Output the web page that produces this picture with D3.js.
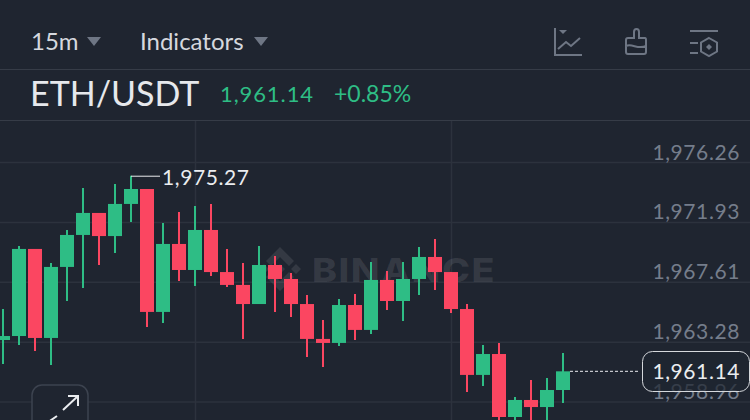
<!DOCTYPE html>
<html><head><meta charset="utf-8">
<script src="https://cdn.jsdelivr.net/npm/d3@7/dist/d3.min.js"></script>
<style>html,body{margin:0;padding:0;background:#1f2530;overflow:hidden}svg{display:block}text{font-family:Lato,"Open Sans",sans-serif}</style>
</head><body><svg id="c" width="750" height="420"></svg>
<script>
const opens =[1963.40,1963.69,1969.98,1963.55,1968.68,1970.99,1972.58,1970.91,1973.23,1974.31,1965.43,1970.34,1968.46,1971.35,1968.31,1967.38,1966.00,1968.82,1967.81,1966.00,1963.48,1963.19,1965.93,1964.13,1967.74,1966.22,1967.81,1969.40,1968.31,1965.64,1960.88,1962.39,1957.84,1959.07,1958.56,1959.79];
const closes=[1963.69,1969.98,1963.55,1968.68,1970.99,1972.58,1970.91,1973.23,1974.31,1965.43,1970.34,1968.46,1971.35,1968.31,1967.38,1966.00,1968.82,1967.81,1966.00,1963.48,1963.19,1965.93,1964.13,1967.74,1966.22,1967.81,1969.40,1968.31,1965.64,1960.88,1962.39,1957.84,1959.07,1958.56,1959.79,1961.14];
const highs =[1965.64,1970.19,1969.98,1968.96,1971.35,1974.38,1972.58,1974.67,1975.27,1974.31,1971.85,1972.65,1973.08,1973.23,1969.98,1968.96,1970.19,1969.47,1968.24,1966.65,1964.85,1966.36,1966.73,1969.04,1968.39,1969.04,1970.12,1970.70,1968.31,1966.00,1963.04,1963.19,1959.29,1960.51,1960.66,1962.46];
const lows  =[1961.67,1963.04,1962.61,1961.60,1966.22,1967.16,1968.82,1969.69,1971.93,1964.34,1964.63,1967.66,1967.30,1968.03,1967.23,1963.48,1966.00,1965.43,1965.06,1962.18,1961.45,1962.97,1963.40,1963.84,1965.57,1964.78,1966.65,1967.01,1965.35,1959.65,1960.08,1957.00,1957.40,1957.30,1957.50,1958.85];
const priceTicks=[1976.26,1971.93,1967.61,1963.28,1958.96];
const timeTicks=[12,28];
const lastPrice=1961.14, highPrice=1975.27, highIndex=8;
const labels={interval:"15m",indicators:"Indicators",pair:"ETH/USDT",price:"1,961.14",change:"+0.85%",high:"1,975.27",last:"1,961.14",brand:"BINANCE"};

const BG="#1f2530",UP="#2ebd85",DOWN="#fb4661",GRID="#2c323d",MUTED="#757d8b",ICON="#6e7684";
const fmt=d3.format(",.2f");
const svg=d3.select("#c");
svg.append("rect").attr("width",750).attr("height",420).attr("fill",BG);
const x=d3.scaleLinear().domain([0,35]).range([3,563]);
const y=d3.scaleLinear().domain([1976.26,1958.96]).range([162,401.5]);
const plot=svg.append("g");

// grid
const gy=plot.append("g").call(d3.axisRight(y).tickValues(priceTicks).tickSize(750).tickFormat(""));
gy.select(".domain").remove();
gy.selectAll("line").attr("stroke",GRID).attr("stroke-width",1.5);
const gx=plot.append("g").attr("transform","translate(0,420)").call(d3.axisTop(x).tickValues(timeTicks).tickSize(300).tickFormat(""));
gx.select(".domain").remove();
gx.selectAll("line").attr("stroke",GRID).attr("stroke-width",1.5);

// watermark
const wm=plot.append("g").attr("fill","#fff").attr("fill-opacity",0.095);
wm.append("text").attr("transform","translate(312,282) scale(1.14,1)").attr("font-size",33).attr("font-weight",800)
 .style("font-family","Inter,sans-serif").attr("textLength",160).attr("lengthAdjust","spacing").text(labels.brand);
const lg=wm.append("g").attr("transform","translate(280,269)");
lg.append("path").attr("d","M0,-22 L14,-8 L9,-3 L0,-12 L-9,-3 L-14,-8 Z M0,22 L14,8 L9,3 L0,12 L-9,3 L-14,8 Z M-16,-5 L-11,0 L-16,5 L-21,0 Z M16,-5 L21,0 L16,5 L11,0 Z M0,-5 L5,0 L0,5 L-5,0 Z");

// candles
const idx=d3.range(opens.length);
const col=i=>closes[i]>=opens[i]?UP:DOWN;
plot.append("g").selectAll("line").data(idx).join("line")
 .attr("x1",x).attr("x2",x).attr("y1",i=>y(highs[i])).attr("y2",i=>y(lows[i]))
 .attr("stroke",col).attr("stroke-width",2);
plot.append("g").selectAll("rect").data(idx).join("rect")
 .attr("x",i=>x(i)-7).attr("width",14)
 .attr("y",i=>y(Math.max(opens[i],closes[i])))
 .attr("height",i=>Math.max(1,Math.abs(y(opens[i])-y(closes[i]))))
 .attr("fill",col);

// y labels
const gl=plot.append("g").call(d3.axisRight(y).tickValues(priceTicks).tickSize(0).tickPadding(0).tickFormat(fmt));
gl.select(".domain").remove();
gl.selectAll("text").attr("x",740).attr("y",-1.5).attr("text-anchor","end")
 .attr("font-size",21).attr("fill",MUTED).style("font-family","Lato,sans-serif").attr("letter-spacing",0.6).attr("dy",-1.5);

// high marker
plot.append("line").attr("x1",x(highIndex)).attr("x2",160).attr("y1",y(highPrice)+.5).attr("y2",y(highPrice)+.5).attr("stroke","#eaecef").attr("stroke-width",1);
plot.append("text").attr("x",162).attr("y",y(highPrice)+9).attr("font-size",21).attr("fill","#eaecef").attr("letter-spacing",0.6).text(labels.high);

// last price
plot.append("line").attr("x1",570).attr("x2",640).attr("y1",y(lastPrice)).attr("y2",y(lastPrice)).attr("stroke","#eaecef").attr("stroke-width",1).attr("stroke-dasharray","3 2");
plot.append("rect").attr("x",642.5).attr("y",351.5).attr("width",107).attr("height",40).attr("rx",10).attr("fill",BG).attr("fill-opacity",.72).attr("stroke","#d5d8dc").attr("stroke-width",1);
plot.append("text").attr("x",740).attr("y",y(lastPrice)+8).attr("text-anchor","end").attr("font-size",21).attr("fill","#eaecef").attr("letter-spacing",0.6).text(labels.last);

// expand button
const ex=svg.append("g");
ex.append("rect").attr("x",32).attr("y",385).attr("width",56).attr("height",60).attr("rx",10).attr("fill",BG).attr("stroke","#3c434f").attr("stroke-width",1.5);
ex.append("path").attr("d","M63,410 L78,396 M68,396 L78,396 L78,406 M44,425 L57,416").attr("fill","none").attr("stroke","#eaecef").attr("stroke-width",2);

// header
const hd=svg.append("g");
hd.append("rect").attr("width",750).attr("height",120).attr("fill",BG);
hd.append("line").attr("x1",0).attr("x2",750).attr("y1",69.5).attr("y2",69.5).attr("stroke","#363c47");
hd.append("line").attr("x1",0).attr("x2",750).attr("y1",120.5).attr("y2",120.5).attr("stroke","#363c47");
hd.append("text").attr("x",31).attr("y",50).attr("font-size",24).attr("fill","#d5d8de").text(labels.interval);
hd.append("text").attr("x",140).attr("y",50).attr("font-size",24).attr("fill","#d5d8de").text(labels.indicators);
hd.append("path").attr("d","M87,37 L101,37 L94,46 Z M254,37 L268,37 L261,46 Z").attr("fill",ICON);
hd.append("text").attr("x",30).attr("y",106).attr("font-size",34).attr("fill","#e6e8ec").text(labels.pair);
hd.append("text").attr("x",220).attr("y",102).attr("font-size",22).attr("fill",UP).attr("letter-spacing",0.9).text(labels.price);
hd.append("text").attr("x",334).attr("y",102).attr("font-size",23).attr("fill",UP).text(labels.change);
// icons
const ic=hd.append("g").attr("fill","none").attr("stroke",ICON).attr("stroke-width",2);
ic.append("path").attr("d","M555,28 V55 H582 M558,49 L566,42 L571,46 L580,38");
ic.append("path").attr("d","M559,30 H567 L563,34 Z").attr("fill",ICON).attr("stroke","none");
ic.append("path").attr("d","M628,38 H634 V32 Q634,29 636.5,29 Q639,29 639,32 V38 H645 Q646,38 646,40 V52 Q646,54 644,54 H628 Q626,54 626,52 V40 Q626,38 628,38 Z M626,46 C632,43 638,50 646,46");
ic.append("path").attr("d","M690,31 H718 M690,43 H698 M690,53 H698 M709,38 L717,42.5 V51.5 L709,56 L701,51.5 V42.5 Z");
ic.append("path").attr("d","M709,44 L712,47 L709,50 L706,47 Z").attr("fill",ICON).attr("stroke","none");
</script></body></html>
